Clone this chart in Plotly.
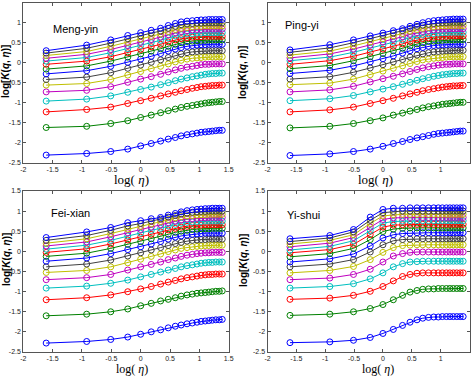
import plotly.graph_objects as go

# ---------------- data ----------------
log_eta = [-1.61, -0.92, -0.51, -0.22, 0.00, 0.18, 0.34, 0.47, 0.59, 0.69,
           0.79, 0.88, 0.96, 1.03, 1.10, 1.16, 1.22, 1.28, 1.34, 1.39]

panel_names = ["Meng-yin", "Ping-yi", "Fei-xian", "Yi-shui"]

# series listed bottom (q lowest) to top
meng_yin = [
    [-2.31, -2.27, -2.22, -2.16, -2.08, -2.02, -1.96, -1.91, -1.87, -1.83, -1.80, -1.78, -1.76, -1.74, -1.73, -1.72, -1.71, -1.70, -1.69, -1.69],
    [-1.62, -1.59, -1.52, -1.45, -1.37, -1.31, -1.25, -1.20, -1.16, -1.12, -1.09, -1.07, -1.05, -1.03, -1.01, -1.00, -0.99, -0.98, -0.97, -0.97],
    [-1.23, -1.17, -1.11, -1.02, -0.95, -0.89, -0.83, -0.78, -0.74, -0.70, -0.67, -0.64, -0.62, -0.60, -0.59, -0.58, -0.57, -0.57, -0.56, -0.56],
    [-0.96, -0.91, -0.83, -0.74, -0.67, -0.61, -0.55, -0.50, -0.45, -0.41, -0.38, -0.35, -0.33, -0.31, -0.29, -0.28, -0.27, -0.27, -0.26, -0.26],
    [-0.73, -0.69, -0.60, -0.49, -0.41, -0.35, -0.29, -0.23, -0.18, -0.14, -0.11, -0.09, -0.07, -0.05, -0.04, -0.04, -0.03, -0.03, -0.03, -0.03],
    [-0.56, -0.52, -0.42, -0.31, -0.22, -0.15, -0.09, -0.03, 0.02, 0.06, 0.09, 0.11, 0.12, 0.13, 0.14, 0.15, 0.15, 0.15, 0.15, 0.15],
    [-0.42, -0.36, -0.25, -0.14, -0.06, 0.01, 0.07, 0.13, 0.18, 0.22, 0.25, 0.27, 0.28, 0.29, 0.30, 0.30, 0.30, 0.30, 0.30, 0.30],
    [-0.28, -0.20, -0.09, 0.01, 0.09, 0.16, 0.23, 0.29, 0.34, 0.38, 0.41, 0.43, 0.44, 0.45, 0.45, 0.46, 0.46, 0.46, 0.46, 0.46],
    [-0.16, -0.08, 0.04, 0.14, 0.22, 0.29, 0.35, 0.41, 0.46, 0.50, 0.53, 0.54, 0.55, 0.56, 0.56, 0.57, 0.57, 0.57, 0.57, 0.57],
    [-0.04, 0.04, 0.15, 0.25, 0.33, 0.40, 0.46, 0.52, 0.57, 0.60, 0.62, 0.64, 0.65, 0.65, 0.66, 0.66, 0.66, 0.66, 0.66, 0.66],
    [0.04, 0.13, 0.25, 0.35, 0.43, 0.50, 0.56, 0.62, 0.67, 0.70, 0.72, 0.73, 0.74, 0.74, 0.75, 0.75, 0.75, 0.75, 0.75, 0.75],
    [0.11, 0.21, 0.33, 0.43, 0.51, 0.58, 0.64, 0.70, 0.75, 0.78, 0.80, 0.82, 0.83, 0.83, 0.84, 0.84, 0.84, 0.84, 0.84, 0.84],
    [0.18, 0.28, 0.41, 0.51, 0.59, 0.66, 0.72, 0.78, 0.83, 0.86, 0.88, 0.90, 0.91, 0.91, 0.92, 0.92, 0.92, 0.92, 0.92, 0.92],
    [0.24, 0.36, 0.49, 0.60, 0.67, 0.74, 0.79, 0.86, 0.91, 0.95, 0.97, 0.98, 0.99, 0.99, 1.00, 1.00, 1.00, 1.00, 1.00, 1.00],
    [0.30, 0.44, 0.57, 0.68, 0.75, 0.81, 0.86, 0.93, 0.98, 1.02, 1.04, 1.05, 1.06, 1.07, 1.07, 1.08, 1.08, 1.08, 1.08, 1.08],
]

ping_yi = [
    [-2.32, -2.28, -2.22, -2.16, -2.09, -2.02, -1.97, -1.92, -1.88, -1.85, -1.82, -1.79, -1.77, -1.76, -1.75, -1.74, -1.73, -1.72, -1.71, -1.71],
    [-1.63, -1.59, -1.52, -1.45, -1.38, -1.31, -1.26, -1.21, -1.17, -1.13, -1.10, -1.08, -1.06, -1.04, -1.03, -1.02, -1.01, -1.00, -0.99, -0.99],
    [-1.23, -1.18, -1.11, -1.02, -0.95, -0.89, -0.83, -0.78, -0.74, -0.70, -0.67, -0.65, -0.63, -0.61, -0.60, -0.59, -0.58, -0.58, -0.57, -0.57],
    [-0.95, -0.90, -0.82, -0.73, -0.66, -0.60, -0.54, -0.49, -0.44, -0.40, -0.37, -0.34, -0.32, -0.30, -0.29, -0.28, -0.27, -0.27, -0.26, -0.26],
    [-0.73, -0.68, -0.59, -0.48, -0.40, -0.34, -0.28, -0.22, -0.17, -0.13, -0.10, -0.08, -0.06, -0.05, -0.04, -0.04, -0.03, -0.03, -0.03, -0.03],
    [-0.55, -0.51, -0.41, -0.30, -0.21, -0.14, -0.08, -0.02, 0.03, 0.07, 0.09, 0.11, 0.12, 0.13, 0.14, 0.15, 0.15, 0.15, 0.15, 0.15],
    [-0.41, -0.35, -0.24, -0.13, -0.05, 0.02, 0.08, 0.14, 0.19, 0.22, 0.25, 0.27, 0.28, 0.29, 0.30, 0.30, 0.30, 0.31, 0.31, 0.31],
    [-0.27, -0.19, -0.08, 0.02, 0.10, 0.17, 0.24, 0.30, 0.35, 0.38, 0.41, 0.43, 0.44, 0.45, 0.45, 0.46, 0.46, 0.46, 0.46, 0.46],
    [-0.15, -0.07, 0.05, 0.15, 0.23, 0.30, 0.36, 0.42, 0.47, 0.50, 0.53, 0.54, 0.55, 0.56, 0.57, 0.57, 0.57, 0.58, 0.58, 0.58],
    [-0.04, 0.05, 0.16, 0.26, 0.34, 0.41, 0.47, 0.53, 0.57, 0.60, 0.62, 0.64, 0.65, 0.66, 0.66, 0.67, 0.67, 0.67, 0.67, 0.67],
    [0.05, 0.14, 0.26, 0.36, 0.44, 0.51, 0.57, 0.63, 0.67, 0.70, 0.72, 0.73, 0.74, 0.75, 0.75, 0.76, 0.76, 0.76, 0.76, 0.76],
    [0.12, 0.22, 0.34, 0.44, 0.52, 0.59, 0.65, 0.71, 0.75, 0.78, 0.80, 0.82, 0.83, 0.84, 0.84, 0.85, 0.85, 0.85, 0.85, 0.85],
    [0.19, 0.29, 0.42, 0.52, 0.60, 0.67, 0.73, 0.79, 0.83, 0.86, 0.88, 0.90, 0.91, 0.92, 0.92, 0.93, 0.93, 0.93, 0.93, 0.93],
    [0.26, 0.37, 0.50, 0.60, 0.68, 0.74, 0.80, 0.86, 0.91, 0.94, 0.96, 0.98, 0.99, 1.00, 1.00, 1.01, 1.01, 1.01, 1.01, 1.01],
    [0.32, 0.45, 0.57, 0.67, 0.74, 0.80, 0.85, 0.91, 0.96, 1.00, 1.03, 1.05, 1.06, 1.07, 1.08, 1.08, 1.09, 1.09, 1.09, 1.09],
]

fei_xian = [
    [-2.29, -2.25, -2.20, -2.14, -2.07, -2.01, -1.96, -1.91, -1.87, -1.84, -1.81, -1.79, -1.77, -1.75, -1.74, -1.73, -1.72, -1.71, -1.71, -1.70],
    [-1.61, -1.57, -1.51, -1.44, -1.36, -1.30, -1.24, -1.20, -1.16, -1.12, -1.09, -1.07, -1.05, -1.04, -1.03, -1.02, -1.01, -1.00, -1.00, -0.99],
    [-1.21, -1.16, -1.09, -1.01, -0.94, -0.88, -0.82, -0.77, -0.73, -0.69, -0.66, -0.64, -0.62, -0.60, -0.59, -0.58, -0.58, -0.57, -0.57, -0.57],
    [-0.92, -0.87, -0.80, -0.72, -0.64, -0.58, -0.52, -0.47, -0.43, -0.39, -0.36, -0.34, -0.32, -0.30, -0.29, -0.28, -0.28, -0.27, -0.27, -0.27],
    [-0.71, -0.66, -0.58, -0.47, -0.39, -0.33, -0.27, -0.21, -0.17, -0.13, -0.10, -0.08, -0.06, -0.05, -0.04, -0.04, -0.03, -0.03, -0.03, -0.03],
    [-0.53, -0.48, -0.39, -0.29, -0.20, -0.13, -0.07, -0.01, 0.03, 0.07, 0.09, 0.11, 0.12, 0.13, 0.14, 0.14, 0.15, 0.15, 0.15, 0.15],
    [-0.39, -0.32, -0.22, -0.12, -0.04, 0.03, 0.09, 0.14, 0.19, 0.22, 0.25, 0.27, 0.28, 0.29, 0.29, 0.30, 0.30, 0.30, 0.30, 0.30],
    [-0.25, -0.17, -0.06, 0.04, 0.11, 0.18, 0.24, 0.30, 0.35, 0.38, 0.40, 0.42, 0.43, 0.44, 0.45, 0.45, 0.45, 0.45, 0.45, 0.45],
    [-0.13, -0.05, 0.07, 0.17, 0.24, 0.31, 0.37, 0.42, 0.47, 0.50, 0.52, 0.54, 0.55, 0.56, 0.56, 0.56, 0.57, 0.57, 0.57, 0.57],
    [-0.03, 0.06, 0.18, 0.28, 0.35, 0.42, 0.48, 0.53, 0.57, 0.60, 0.62, 0.64, 0.65, 0.65, 0.66, 0.66, 0.66, 0.66, 0.66, 0.66],
    [0.05, 0.15, 0.27, 0.38, 0.45, 0.52, 0.57, 0.63, 0.67, 0.70, 0.72, 0.73, 0.74, 0.74, 0.75, 0.75, 0.75, 0.75, 0.75, 0.75],
    [0.13, 0.23, 0.36, 0.46, 0.54, 0.60, 0.66, 0.71, 0.75, 0.78, 0.80, 0.81, 0.82, 0.83, 0.83, 0.84, 0.84, 0.84, 0.84, 0.84],
    [0.20, 0.31, 0.44, 0.55, 0.62, 0.68, 0.74, 0.79, 0.83, 0.86, 0.88, 0.89, 0.90, 0.91, 0.91, 0.92, 0.92, 0.92, 0.92, 0.92],
    [0.27, 0.39, 0.52, 0.63, 0.69, 0.75, 0.80, 0.85, 0.89, 0.93, 0.95, 0.97, 0.98, 0.99, 0.99, 1.00, 1.00, 1.00, 1.00, 1.00],
    [0.34, 0.48, 0.59, 0.71, 0.76, 0.81, 0.84, 0.90, 0.94, 0.98, 1.01, 1.03, 1.04, 1.05, 1.06, 1.06, 1.07, 1.07, 1.07, 1.07],
]

yi_shui = [
    [-2.28, -2.26, -2.22, -2.15, -2.05, -1.95, -1.85, -1.77, -1.71, -1.67, -1.65, -1.64, -1.64, -1.63, -1.63, -1.63, -1.63, -1.63, -1.63, -1.63],
    [-1.60, -1.57, -1.51, -1.43, -1.33, -1.21, -1.10, -1.02, -0.98, -0.95, -0.94, -0.94, -0.93, -0.93, -0.93, -0.93, -0.93, -0.93, -0.93, -0.93],
    [-1.20, -1.17, -1.10, -1.00, -0.88, -0.74, -0.63, -0.58, -0.55, -0.54, -0.54, -0.54, -0.54, -0.54, -0.54, -0.54, -0.54, -0.54, -0.54, -0.54],
    [-0.92, -0.88, -0.81, -0.69, -0.54, -0.39, -0.31, -0.27, -0.26, -0.25, -0.25, -0.25, -0.25, -0.25, -0.25, -0.25, -0.25, -0.25, -0.25, -0.25],
    [-0.71, -0.67, -0.58, -0.45, -0.27, -0.12, -0.06, -0.03, -0.02, -0.02, -0.02, -0.02, -0.02, -0.02, -0.02, -0.02, -0.02, -0.02, -0.02, -0.02],
    [-0.54, -0.48, -0.38, -0.21, -0.03, 0.09, 0.14, 0.15, 0.16, 0.16, 0.16, 0.16, 0.16, 0.16, 0.16, 0.16, 0.16, 0.16, 0.16, 0.16],
    [-0.39, -0.32, -0.21, -0.02, 0.16, 0.26, 0.29, 0.30, 0.31, 0.31, 0.31, 0.31, 0.31, 0.31, 0.31, 0.31, 0.31, 0.31, 0.31, 0.31],
    [-0.27, -0.19, -0.07, 0.13, 0.33, 0.41, 0.44, 0.45, 0.46, 0.46, 0.46, 0.46, 0.46, 0.46, 0.46, 0.46, 0.46, 0.46, 0.46, 0.46],
    [-0.14, -0.06, 0.07, 0.29, 0.49, 0.55, 0.57, 0.58, 0.58, 0.58, 0.58, 0.58, 0.58, 0.58, 0.58, 0.58, 0.58, 0.58, 0.58, 0.58],
    [-0.04, 0.04, 0.17, 0.41, 0.60, 0.65, 0.66, 0.67, 0.67, 0.67, 0.67, 0.67, 0.67, 0.67, 0.67, 0.67, 0.67, 0.67, 0.67, 0.67],
    [0.03, 0.12, 0.26, 0.51, 0.70, 0.74, 0.75, 0.76, 0.76, 0.76, 0.76, 0.76, 0.76, 0.76, 0.76, 0.76, 0.76, 0.76, 0.76, 0.76],
    [0.11, 0.20, 0.34, 0.60, 0.79, 0.83, 0.84, 0.84, 0.84, 0.84, 0.84, 0.84, 0.84, 0.84, 0.84, 0.84, 0.84, 0.84, 0.84, 0.84],
    [0.18, 0.27, 0.41, 0.69, 0.88, 0.91, 0.92, 0.92, 0.92, 0.92, 0.92, 0.92, 0.92, 0.92, 0.92, 0.92, 0.92, 0.92, 0.92, 0.92],
    [0.24, 0.33, 0.48, 0.77, 0.96, 0.99, 1.00, 1.00, 1.00, 1.00, 1.00, 1.00, 1.00, 1.00, 1.00, 1.00, 1.00, 1.00, 1.00, 1.00],
    [0.31, 0.39, 0.54, 0.85, 1.04, 1.07, 1.07, 1.08, 1.08, 1.08, 1.08, 1.08, 1.08, 1.08, 1.08, 1.08, 1.08, 1.08, 1.08, 1.08],
]

x_tick_vals = [-2, -1.5, -1, -0.5, 0, 0.5, 1, 1.5]
x_tick_text = ["-2", "-1.5", "-1", "-0.5", "0", "0.5", "1", "1.5"]
y_tick_vals = [-2.5, -2, -1.5, -1, -0.5, 0, 0.5, 1, 1.5]
y_tick_text = ["-2.5", "-2", "-1.5", "-1", "-0.5", "0", "0.5", "1", "1.5"]

# MATLAB classic line colour order
line_colors = ["#0000FF", "#008000", "#FF0000", "#00BFBF", "#BF00BF", "#BFBF00", "#404040"]

# ---------------- figure ----------------
W, H = 474, 376
panels = [meng_yin, ping_yi, fei_xian, yi_shui]

# panel pixel boxes (left, right, top, bottom)
boxes = [(23.3, 228.7, 2.7, 162.7), (267.5, 469.5, 2.7, 162.7),
         (23.3, 228.7, 191.0, 351.5), (267.5, 469.5, 191.0, 351.5)]

fig = go.Figure()
for k, data in enumerate(panels):
    xa = "x" if k == 0 else f"x{k+1}"
    ya = "y" if k == 0 else f"y{k+1}"
    for i, series in enumerate(data):
        c = line_colors[i % len(line_colors)]
        fig.add_trace(go.Scatter(
            x=log_eta, y=series, xaxis=xa, yaxis=ya, mode="lines+markers",
            line=dict(color=c, width=1),
            marker=dict(symbol="circle-open", size=6, color=c, line=dict(width=1, color=c)),
            showlegend=False, hoverinfo="skip"))

axis_common = dict(showline=True, mirror="ticks", linecolor="#555", linewidth=1,
                   ticks="inside", ticklen=3, tickcolor="#555", tickwidth=1,
                   showgrid=False, zeroline=False, automargin=False,
                   tickfont=dict(family="Liberation Sans, Arial", size=7, color="#222"))

layout = dict(width=W, height=H, margin=dict(l=0, r=0, t=0, b=0, pad=0),
              paper_bgcolor="white", plot_bgcolor="white", template="none")
for k, box in enumerate(boxes):
    l, r, t, b = box
    xn = "xaxis" if k == 0 else f"xaxis{k+1}"
    yn = "yaxis" if k == 0 else f"yaxis{k+1}"
    anchor_x = "y" if k == 0 else f"y{k+1}"
    anchor_y = "x" if k == 0 else f"x{k+1}"
    layout[xn] = dict(axis_common, domain=[l / W, r / W], range=[-2, 1.5],
                      tickvals=x_tick_vals, ticktext=x_tick_text, anchor=anchor_x)
    layout[yn] = dict(axis_common, domain=[1 - b / H, 1 - t / H], range=[-2.5, 1.5],
                      tickvals=y_tick_vals, ticktext=y_tick_text, anchor=anchor_y)
fig.update_layout(**layout)

# panel labels, axis titles
label_pos = [(75, 29), (302, 25), (70, 213), (303, 215)]
xtitle_pos = [(131, 179), (375, 179), (132, 369), (378, 369)]
xtitle_size = [13, 13, 12, 12]
ytitle_pos = [(6, 72), (243, 72), (6, 260), (243, 260)]
for k in range(4):
    lx, ly = label_pos[k]
    fig.add_annotation(x=lx / W, y=1 - ly / H, xref="paper", yref="paper",
                       xanchor="center", yanchor="middle",
                       text=panel_names[k], showarrow=False,
                       font=dict(family="Liberation Sans, Arial", size=11, color="black"))
    tx, ty = xtitle_pos[k]
    fig.add_annotation(x=tx / W, y=1 - ty / H, xref="paper", yref="paper",
                       xanchor="center", yanchor="middle",
                       text="log( <i>η</i>)", showarrow=False,
                       font=dict(family="Liberation Serif, Times New Roman", size=xtitle_size[k], color="black"))
    yx, yy = ytitle_pos[k]
    fig.add_annotation(x=yx / W, y=1 - yy / H, xref="paper", yref="paper",
                       xanchor="center", yanchor="middle",
                       text="<b>log[<i>K</i>(<i>q</i>, <i>η</i>)]</b>", showarrow=False, textangle=-90,
                       font=dict(family="Liberation Sans, Arial", size=10, color="black"))

fig.write_html("out.html", config={"displayModeBar": False},
               post_script="document.body.style.margin='0px';document.body.style.overflow='hidden';")
